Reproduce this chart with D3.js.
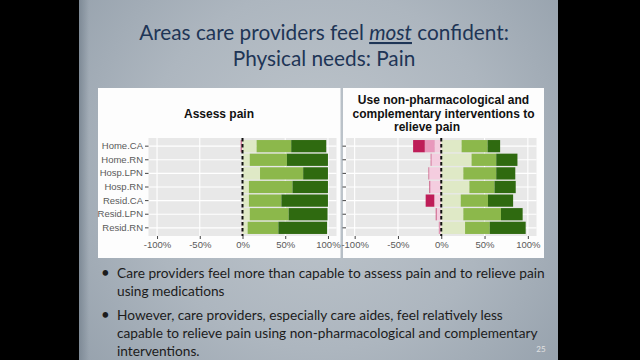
<!DOCTYPE html>
<html><head><meta charset="utf-8">
<script src="https://cdn.jsdelivr.net/npm/d3@7"></script>
<style>html,body{margin:0;padding:0;background:#000;overflow:hidden}</style>
</head><body>
<svg id="c" width="640" height="360"></svg>
<script>
// ---------- DATA ----------
const categories = ["Home.CA","Home.RN","Hosp.LPN","Hosp.RN","Resid.CA","Resid.LPN","Resid.RN"];
const levelNames = ["Not at all capable","Not capable","Somewhat less capable","Somewhat capable","Capable","Very capable"];
const xTickValues = [-100,-50,0,50,100];
const panelTitles = [["Assess pain"], ["Use non-pharmacological and","complementary interventions to","relieve pain"]];

// Panel 1: Assess pain (percent of respondents per level)
const assessNotAtAll   = [0.8, 0, 0, 0, 0, 0, 0];
const assessNotCapable = [0, 0, 0, 0, 0, 0, 0];
const assessLess       = [1.2, 0, 0, 0, 0, 0.5, 1];
const assessSomewhat   = [16.5, 8.5, 20.5, 7.5, 7.5, 8.5, 6];
const assessCapable    = [40.5, 43.5, 50.5, 51, 38, 45.5, 36];
const assessVery       = [41, 48, 29, 41.5, 54.5, 45.5, 57];

// Panel 2: Non-pharmacological / complementary interventions
const nonPharmNotAtAll   = [13.5, 0.6, 0.6, 0.8, 10, 0.8, 0.5];
const nonPharmNotCapable = [11.5, 0, 0, 0, 0, 0, 0];
const nonPharmLess       = [7.5, 11.5, 14, 12.8, 8, 5.5, 2.2];
const nonPharmSomewhat   = [23.5, 35, 25.5, 32.5, 22.5, 25.5, 27.5];
const nonPharmCapable    = [30, 28.5, 38, 29, 31.5, 43.5, 28.5];
const nonPharmVery       = [14.5, 24.5, 22, 24.5, 29, 25, 41.5];

const bullets = [
  ["Care providers feel more than capable to assess pain and to relieve pain", "using medications"],
  ["However, care providers, especially care aides, feel relatively less", "capable to relieve pain using non-pharmacological and complementary", "interventions."]
];

// ---------- STYLE ----------
const levelColors = ["#BE1D58","#E898BC","#F4CDDF","#DFE9C6","#8CB84B","#2F6A10"];
const svg = d3.select("#c");

// slide background
const defs = svg.append("defs");
const rg = defs.append("radialGradient").attr("id","bg").attr("gradientUnits","userSpaceOnUse")
  .attr("cx",320).attr("cy",170).attr("r",300);
rg.append("stop").attr("offset","0%").attr("stop-color","#C0C7CD");
rg.append("stop").attr("offset","60%").attr("stop-color","#ADB6BF");
rg.append("stop").attr("offset","100%").attr("stop-color","#98A3AE");
const lg = defs.append("linearGradient").attr("id","edge").attr("x1",0).attr("x2",1).attr("y1",0).attr("y2",0);
lg.append("stop").attr("offset","0%").attr("stop-color","#7E8A96");
lg.append("stop").attr("offset","100%").attr("stop-color","#7E8A96").attr("stop-opacity",0);
svg.append("rect").attr("x",0).attr("y",0).attr("width",640).attr("height",360).attr("fill","#000");
svg.append("rect").attr("x",79).attr("y",0).attr("width",479).attr("height",360).attr("fill","url(#bg)");
svg.append("rect").attr("x",79).attr("y",0).attr("width",10).attr("height",360).attr("fill","url(#edge)");

// title
const title1 = svg.append("text").attr("x",324).attr("y",40).attr("text-anchor","middle")
  .attr("font-family","Lato, 'Open Sans', sans-serif").attr("font-size",22).attr("fill","#1E3556");
title1.append("tspan").text("Areas care providers feel ");
title1.append("tspan").attr("font-style","italic").style("text-decoration","underline").text("most");
title1.append("tspan").text(" confident:");
const title2 = svg.append("text").attr("x",324).attr("y",66).attr("text-anchor","middle")
  .attr("font-family","Lato, 'Open Sans', sans-serif").attr("font-size",22).attr("fill","#1E3556")
  .text("Physical needs: Pain");
{
  const w = title1.node().getComputedTextLength();
  const fs = 22 * 370 / w;
  title1.attr("font-size", fs); title2.attr("font-size", fs);
}

// panels
const panels = [
  {box:[98,88,242.5,170], plot:[148.5,138,336.5,236], labels:true,
   series:[assessNotAtAll,assessNotCapable,assessLess,assessSomewhat,assessCapable,assessVery],
   titles:panelTitles[0], titlePos:[[219,117.5]]},
  {box:[343,88,201,170], plot:[346,138,536.5,236], labels:false,
   series:[nonPharmNotAtAll,nonPharmNotCapable,nonPharmLess,nonPharmSomewhat,nonPharmCapable,nonPharmVery],
   titles:panelTitles[1], titlePos:[[443.5,104],[443.5,117.5],[427,131]]}
];

panels.forEach(p => {
  const g = svg.append("g");
  g.append("rect").attr("x",p.box[0]).attr("y",p.box[1]).attr("width",p.box[2]).attr("height",p.box[3]).attr("fill","#FDFDFD");
  p.titles.forEach((t,i) => {
    g.append("text").attr("x",p.titlePos[i][0]).attr("y",p.titlePos[i][1]).attr("text-anchor","middle")
      .attr("font-family","'Liberation Sans', Arial, sans-serif").attr("font-weight","bold").attr("font-size",12)
      .attr("fill","#111").text(t);
  });
  const [x0,y0,x1,y1] = p.plot;
  const x = d3.scaleLinear().domain([-110,110]).range([x0,x1]);
  const y = d3.scaleBand().domain(categories).range([y0,y1]).paddingInner(0.1).paddingOuter(0.15);
  g.append("rect").attr("x",x0).attr("y",y0).attr("width",x1-x0).attr("height",y1-y0).attr("fill","#E8E8E8");
  g.selectAll(".vg").data(xTickValues).join("line").attr("x1",d=>x(d)).attr("x2",d=>x(d)).attr("y1",y0).attr("y2",y1)
    .attr("stroke","#fff").attr("stroke-width",1.1);
  g.selectAll(".hg").data(categories).join("line").attr("x1",x0).attr("x2",x1)
    .attr("y1",d=>y(d)+y.bandwidth()/2).attr("y2",d=>y(d)+y.bandwidth()/2).attr("stroke","#fff").attr("stroke-width",1.1);

  // diverging stacks
  const segs = [];
  categories.forEach((c,i) => {
    let neg = 0;
    [2,1,0].forEach(l => { const v = p.series[l][i]; if (v>0) segs.push({c, l, a:-(neg+v), b:-neg}); neg += v; });
    let pos = 0;
    [3,4,5].forEach(l => { const v = p.series[l][i]; if (v>0) segs.push({c, l, a:pos, b:pos+v}); pos += v; });
  });
  g.selectAll(".seg").data(segs).join("rect")
    .attr("x",d=>x(d.a)).attr("width",d=>x(d.b)-x(d.a))
    .attr("y",d=>y(d.c)).attr("height",y.bandwidth()).attr("fill",d=>levelColors[d.l]);

  g.append("line").attr("x1",x(0)).attr("x2",x(0)).attr("y1",y0).attr("y2",y1)
    .attr("stroke","#111").attr("stroke-width",2).attr("stroke-dasharray","3.5,2.5");

  const ya = g.append("g").attr("transform",`translate(${x0},0)`)
    .call(d3.axisLeft(y).tickSize(3.5).tickPadding(2).tickFormat(p.labels ? (d=>d) : (()=>"")));
  ya.select(".domain").remove();
  ya.selectAll("line").attr("stroke","#444");
  ya.selectAll("text").attr("font-family","'Liberation Sans', Arial, sans-serif").attr("font-size",9.5).attr("fill","#5a5a5a");

  const xa = g.append("g").attr("transform",`translate(0,${y1})`)
    .call(d3.axisBottom(x).tickValues(xTickValues).tickSize(3).tickPadding(2).tickFormat(d=>d+"%"));
  xa.select(".domain").remove();
  xa.selectAll("line").attr("stroke","#444");
  xa.selectAll("text").attr("font-family","'Liberation Sans', Arial, sans-serif").attr("font-size",9.5).attr("fill","#5a5a5a");
});

// bullets
const bulletBase = [[278,296],[320,338,356]];
const bulletTexts = [];
bullets.forEach((lines,bi) => {
  svg.append("text").attr("x",101).attr("y",bulletBase[bi][0]).attr("font-family","Lato, sans-serif")
    .attr("font-size",15).attr("fill","#1c1c1c").text("\u2022");
  lines.forEach((t,li) => {
    bulletTexts.push(svg.append("text").attr("x",117).attr("y",bulletBase[bi][li])
      .attr("font-family","Lato, 'Open Sans', sans-serif").attr("font-size",15).attr("fill","#1c1c1c").text(t));
  });
});
{
  const w = bulletTexts[0].node().getComputedTextLength();
  const fs = 15 * 428 / w;
  bulletTexts.forEach(t => t.attr("font-size", fs));
}
svg.append("text").attr("x",541).attr("y",352).attr("text-anchor","middle").attr("font-family","Lato, sans-serif")
  .attr("font-size",8).attr("fill","#E2E2E2").text("25");
</script>
</body></html>
